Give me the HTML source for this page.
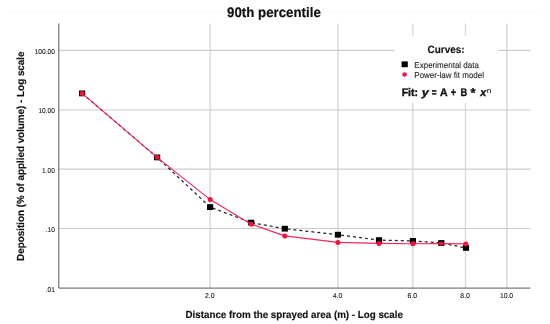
<!DOCTYPE html>
<html lang="en"><head><meta charset="utf-8"><title>90th percentile</title>
<style>html,body{margin:0;padding:0;background:#fff}body{width:550px;height:324px;overflow:hidden}</style></head>
<body>
<svg width="550" height="324" viewBox="0 0 550 324" style="display:block" text-rendering="geometricPrecision">
<rect width="550" height="324" fill="#fff"/>
<line x1="8" y1="12.3" x2="540" y2="12.3" stroke="#fbfbfb" stroke-width="1.2"/>
<g stroke="#dcdcdc" stroke-width="1.6">
<line x1="210.2" y1="23.5" x2="210.2" y2="288.1"/>
<line x1="337.9" y1="23.5" x2="337.9" y2="288.1"/>
<line x1="412.8" y1="23.5" x2="412.8" y2="288.1"/>
<line x1="465.5" y1="23.5" x2="465.5" y2="288.1"/>
<line x1="506.9" y1="23.5" x2="506.9" y2="288.1"/>
</g>
<g stroke="#cbcbcb" stroke-width="1.2">
<line x1="58.8" y1="50.4" x2="530.4" y2="50.4"/>
<line x1="58.8" y1="110.0" x2="530.4" y2="110.0"/>
<line x1="58.8" y1="169.2" x2="530.4" y2="169.2"/>
<line x1="58.8" y1="228.5" x2="530.4" y2="228.5"/>
</g>
<rect x="394.5" y="35.5" width="104" height="67.8" fill="#fff"/>
<path d="M58.8 23.5V288.1H530.4" fill="none" stroke="#505050" stroke-width="0.95"/>
<polyline fill="none" stroke="#222" stroke-width="1.25" stroke-dasharray="3 3" points="82.1,93.4 157.1,157.4 210.1,207.1 251.2,222.6 284.8,228.7 337.9,234.7 379,240.1 412.9,240.9 441.3,243.0 466.0,247.9"/>
<rect x="79.0" y="90.5" width="6.2" height="5.8" fill="#000"/>
<rect x="154.0" y="154.5" width="6.2" height="5.8" fill="#000"/>
<rect x="207.0" y="204.2" width="6.2" height="5.8" fill="#000"/>
<rect x="248.1" y="219.7" width="6.2" height="5.8" fill="#000"/>
<rect x="281.7" y="225.8" width="6.2" height="5.8" fill="#000"/>
<rect x="334.8" y="231.8" width="6.2" height="5.8" fill="#000"/>
<rect x="375.9" y="237.2" width="6.2" height="5.8" fill="#000"/>
<rect x="409.8" y="238.0" width="6.2" height="5.8" fill="#000"/>
<rect x="438.2" y="240.1" width="6.2" height="5.8" fill="#000"/>
<rect x="462.9" y="245.0" width="6.2" height="5.8" fill="#000"/>
<polyline fill="none" stroke="#f3275a" stroke-width="1.15" stroke-linejoin="round" points="82.1,93.4 157.1,157.4 210.2,199.6 251.2,224.2 284.8,235.9 337.9,242.4 379,243.4 412.9,243.7 441.2,243.6 465.8,243.9"/>
<circle cx="82.1" cy="93.4" r="2.5" fill="#f8103a"/>
<circle cx="157.1" cy="157.4" r="2.35" fill="#f8103a"/>
<circle cx="210.2" cy="199.6" r="2.5" fill="#f8103a"/>
<circle cx="251.2" cy="224.2" r="2.5" fill="#f8103a"/>
<circle cx="284.8" cy="235.9" r="2.5" fill="#f8103a"/>
<circle cx="337.9" cy="242.4" r="2.5" fill="#f8103a"/>
<circle cx="379" cy="243.4" r="2.5" fill="#f8103a"/>
<circle cx="412.9" cy="243.7" r="2.5" fill="#f8103a"/>
<circle cx="441.2" cy="243.6" r="2.2" fill="#f8103a"/>
<circle cx="465.8" cy="243.9" r="2.5" fill="#f8103a"/>
<g font-family="'Liberation Sans', Arial, sans-serif" fill="#111">
<text x="273.9" y="16.8" font-size="13.8" font-weight="bold" stroke="#111" stroke-width="0.2" text-anchor="middle" textLength="93.8" lengthAdjust="spacingAndGlyphs">90th percentile</text>
<g font-size="7" fill="#222" stroke="#222" stroke-width="0.12">
<text x="54.9" y="53.7" text-anchor="end" textLength="20.2" lengthAdjust="spacingAndGlyphs">100.00</text>
<text x="54.9" y="113.3" text-anchor="end" textLength="16.5" lengthAdjust="spacingAndGlyphs">10.00</text>
<text x="54.9" y="172.5" text-anchor="end" textLength="12.8" lengthAdjust="spacingAndGlyphs">1.00</text>
<text x="54.9" y="231.8" text-anchor="end" textLength="9.2" lengthAdjust="spacingAndGlyphs">.10</text>
<text x="54.9" y="292.1" text-anchor="end" textLength="9.2" lengthAdjust="spacingAndGlyphs">.01</text>
<text x="209.8" y="298" text-anchor="middle" textLength="9.6" lengthAdjust="spacingAndGlyphs">2.0</text>
<text x="337.5" y="298" text-anchor="middle" textLength="9.6" lengthAdjust="spacingAndGlyphs">4.0</text>
<text x="412.4" y="298" text-anchor="middle" textLength="9.6" lengthAdjust="spacingAndGlyphs">6.0</text>
<text x="465.1" y="298" text-anchor="middle" textLength="9.6" lengthAdjust="spacingAndGlyphs">8.0</text>
<text x="506.5" y="298" text-anchor="middle" textLength="13.2" lengthAdjust="spacingAndGlyphs">10.0</text>
</g>
<text x="294.2" y="317.5" font-size="10.3" font-weight="bold" stroke="#111" stroke-width="0.15" text-anchor="middle" textLength="217.4" lengthAdjust="spacingAndGlyphs">Distance from the sprayed area (m) - Log scale</text>
<text transform="translate(24.4 156.2) rotate(-90)" font-size="10.3" font-weight="bold" stroke="#111" stroke-width="0.15" text-anchor="middle" textLength="209.4" lengthAdjust="spacingAndGlyphs">Deposition (% of applied volume) - Log scale</text>
<text x="427.6" y="53.3" font-size="10.5" font-weight="bold" stroke="#111" stroke-width="0.15" textLength="36.9" lengthAdjust="spacingAndGlyphs">Curves:</text>
<rect x="401.6" y="61.4" width="6.2" height="5.8" fill="#000"/>
<circle cx="404.6" cy="74.5" r="2.3" fill="#f8103a"/>
<text x="414.3" y="68" font-size="8.6" fill="#2a2a2a" stroke="#2a2a2a" stroke-width="0.12" textLength="64.7" lengthAdjust="spacingAndGlyphs">Experimental data</text>
<text x="414.3" y="78.3" font-size="8.6" fill="#2a2a2a" stroke="#2a2a2a" stroke-width="0.12" textLength="69.7" lengthAdjust="spacingAndGlyphs">Power-law fit model</text>
<g font-size="11" font-weight="bold" stroke="#111" stroke-width="0.35">
<text x="401.7" y="96.2" textLength="16.2" lengthAdjust="spacingAndGlyphs">Fit:</text>
<text x="421.7" y="96.2" font-style="italic" textLength="7" lengthAdjust="spacingAndGlyphs">y</text>
<text x="431.8" y="96.2" textLength="4.8" lengthAdjust="spacingAndGlyphs">=</text>
<text x="439.9" y="96.2" textLength="7.6" lengthAdjust="spacingAndGlyphs">A</text>
<text x="450.7" y="96.2" textLength="5.4" lengthAdjust="spacingAndGlyphs">+</text>
<text x="460.5" y="96.2" textLength="6.7" lengthAdjust="spacingAndGlyphs">B</text>
<text x="470.6" y="96.8" font-size="13">*</text>
<text x="480.3" y="96.2" font-style="italic" textLength="6" lengthAdjust="spacingAndGlyphs">x</text>
<text x="486.7" y="93.3" font-size="7.2" font-weight="normal" stroke-width="0.1" textLength="4.6" lengthAdjust="spacingAndGlyphs">n</text>
</g>
</g>
</svg>
</body></html>
